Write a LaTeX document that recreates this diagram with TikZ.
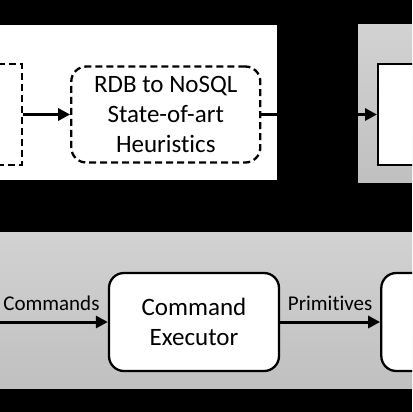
\documentclass[tikz,border=0pt]{standalone}
\usepackage{fontspec}
\setmainfont{Carlito}[Ligatures=NoCommon]
\usetikzlibrary{shapes,arrows.meta,positioning}
\definecolor{bandtop}{RGB}{210,210,210}
\definecolor{bandbot}{RGB}{192,192,192}
\tikzstyle{panel} = [rectangle, inner sep=0pt, outer sep=0pt]
\tikzstyle{band} = [panel, top color=bandtop, bottom color=bandbot]
\tikzstyle{dashbox} = [rectangle, draw, fill=white, line width=2.3pt,
    dash pattern=on 7pt off 4pt, inner sep=0pt]
\tikzstyle{block} = [rectangle, draw, fill=white, line width=2.3pt,
    rounded corners=15pt, align=center, inner sep=0pt,
    font=\fontsize{25}{30}\selectfont]
\tikzstyle{line} = [draw, line width=3pt, -{Triangle[length=12pt,width=12pt]}]
\tikzstyle{edgelabel} = [above=7pt, font=\fontsize{21}{24}\selectfont]

\begin{document}
\begin{tikzpicture}[x=1pt, y=-1pt]
    % Canvas
    \useasboundingbox (0,0) rectangle (412,412);
    \clip (0,0) rectangle (412,412);
    \fill [black] (0,0) rectangle (412,412);
    % Place panels
    \node [panel, fill=white, minimum width=297pt, minimum height=155pt] (heurpanel) at (128.5,102.5) {};
    \node [band, minimum width=112pt, minimum height=157pt] (targetpanel) at (414,103.5) {};
    \node [band, minimum width=432pt, minimum height=156pt] (execpanel) at (206,310) {};
    % Place nodes
    \node [dashbox, minimum width=102pt, minimum height=101pt] (srcbox) at (-29,114.5) {};
    \node [block, dash pattern=on 7pt off 4pt, minimum width=189pt, minimum height=96pt,
        right=47pt of srcbox] (heuristics) {RDB to NoSQL\\State-of-art\\Heuristics};
    \node [rectangle, draw, fill=white, line width=2pt, minimum width=92pt, minimum height=101pt,
        inner sep=0pt] (targetbox) at (424,114.5) {};
    \node [block, minimum width=170pt, minimum height=98pt] (executor) at (194,322) {Command\\Executor};
    \node [block, minimum width=101pt, minimum height=98pt, right=100pt of executor] (primbox) {};
    \coordinate (cmdin) at (-5,322);
    % Draw edges
    \path [line] (srcbox) -- (heuristics);
    \path [line] (heuristics) -- (targetbox);
    \path [line] (cmdin) -- node [edgelabel] {Commands} (executor);
    \path [line] (executor) -- node [edgelabel] {Primitives} (primbox);
\end{tikzpicture}
\end{document}
